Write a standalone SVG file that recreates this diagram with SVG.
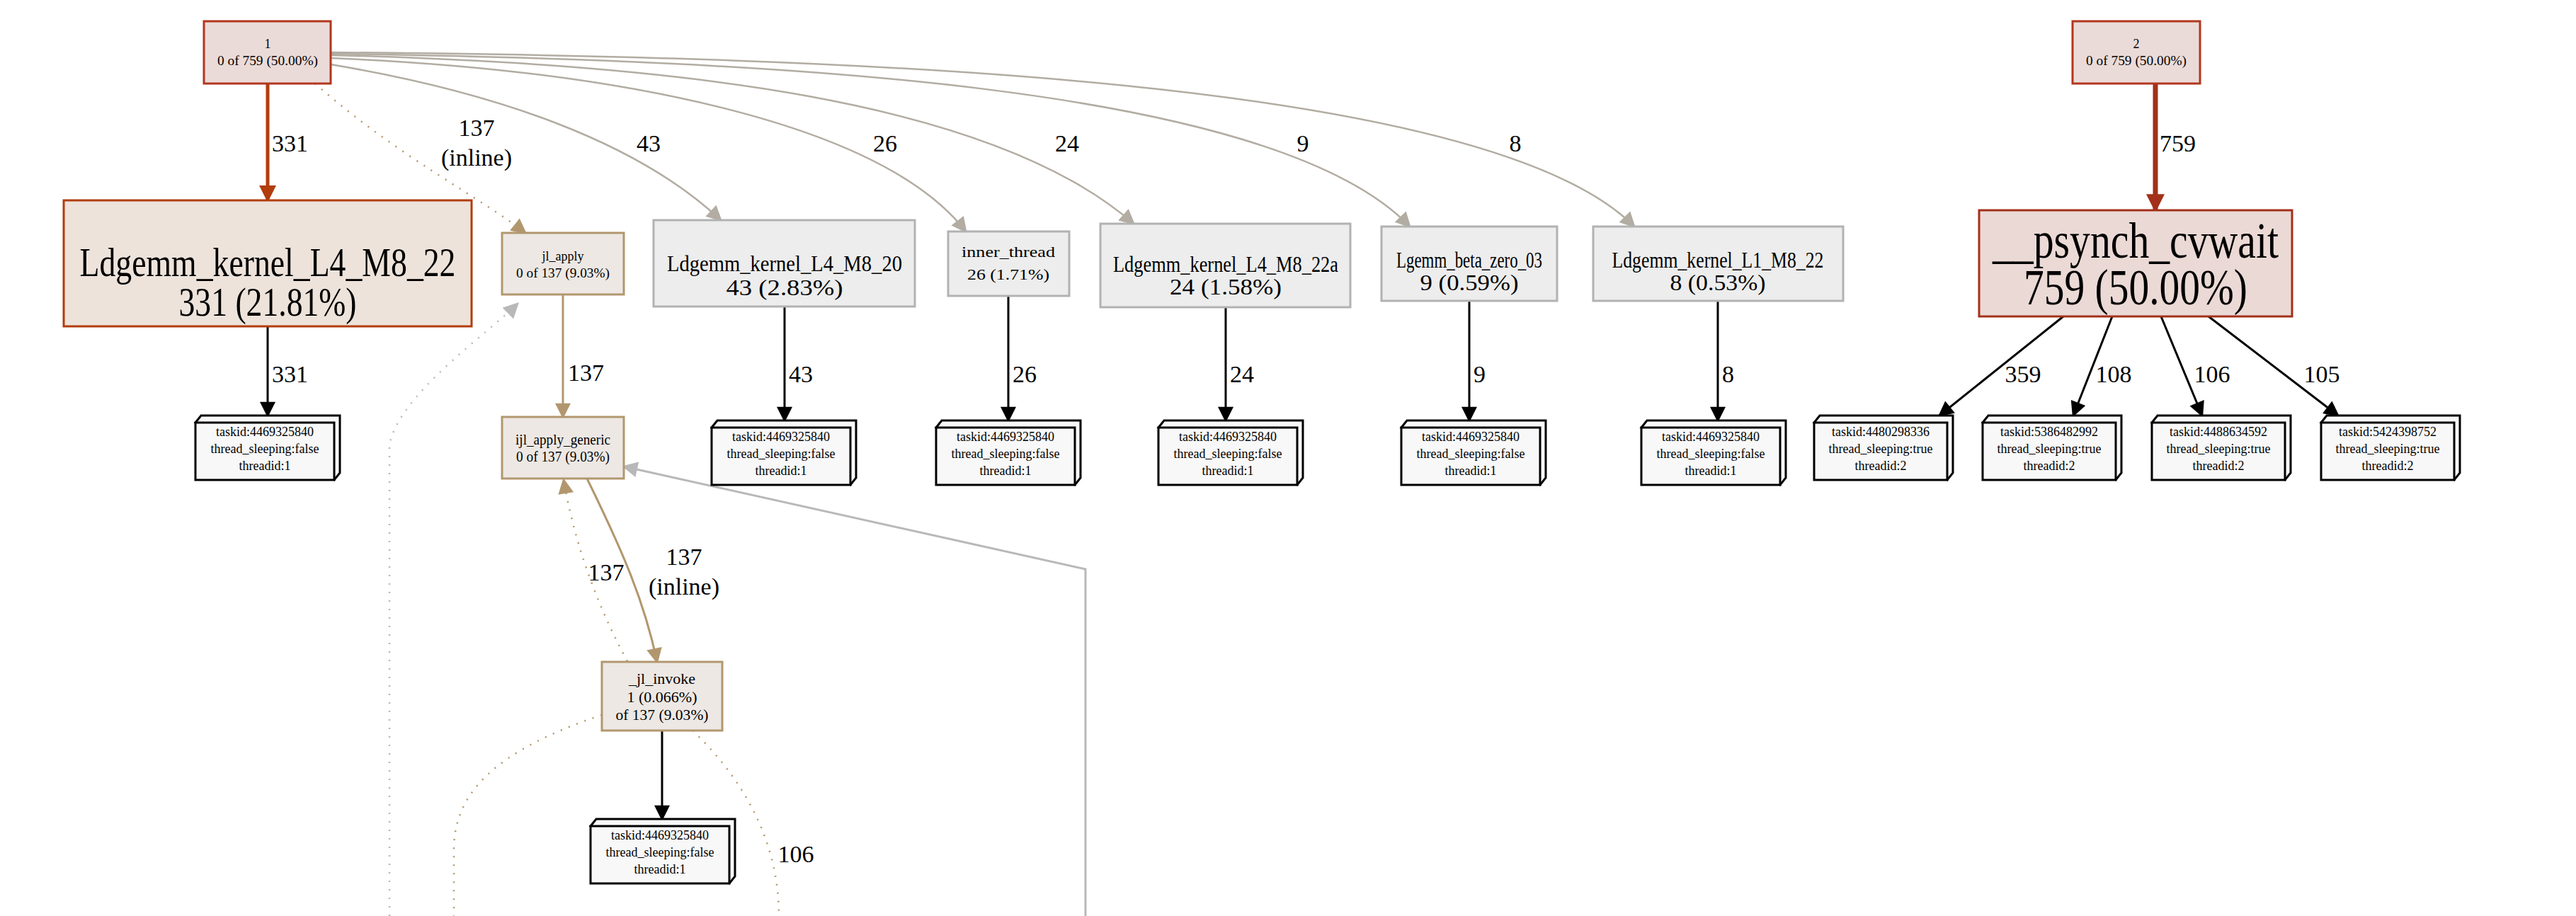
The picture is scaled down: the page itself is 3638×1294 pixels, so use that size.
<svg xmlns="http://www.w3.org/2000/svg" width="3638" height="1294" viewBox="0 0 3638 1294">
<style>
text{font-family:"Liberation Serif","Times New Roman",serif;text-anchor:middle;fill:#000}
.s{font-size:18px}.t{font-size:22px}.m{font-size:32px}.l{font-size:34px}
.st{text-anchor:start}
.e{fill:none}
.task rect{fill:#f8f8f8;stroke:#000;stroke-width:3}
.task path{fill:#f8f8f8;stroke:#000;stroke-width:3}
.gray{fill:#ededed;stroke:#b2b2b2;stroke-width:3}
.tan{fill:#ede8e4;stroke:#b2976e;stroke-width:3}
</style>
<defs>
<marker id="ag" viewBox="0 0 8 8" refX="7" refY="4" markerWidth="26" markerHeight="22" orient="auto" markerUnits="userSpaceOnUse"><path d="M0,0L8,4L0,8z" fill="#b2aca2"/></marker>
<marker id="ag2" viewBox="0 0 8 8" refX="7" refY="4" markerWidth="26" markerHeight="22" orient="auto" markerUnits="userSpaceOnUse"><path d="M0,0L8,4L0,8z" fill="#b8b8b8"/></marker>
<marker id="at" viewBox="0 0 8 8" refX="7" refY="4" markerWidth="28" markerHeight="22" orient="auto" markerUnits="userSpaceOnUse"><path d="M0,0L8,4L0,8z" fill="#b2976e"/></marker>
<marker id="ak" viewBox="0 0 8 8" refX="7" refY="4" markerWidth="30" markerHeight="22" orient="auto" markerUnits="userSpaceOnUse"><path d="M0,0L8,4L0,8z" fill="#000"/></marker>
<marker id="ar" viewBox="0 0 8 8" refX="7" refY="4" markerWidth="32" markerHeight="24" orient="auto" markerUnits="userSpaceOnUse"><path d="M0,0L8,4L0,8z" fill="#b23c0c"/></marker>
<marker id="ar2" viewBox="0 0 8 8" refX="7" refY="4" markerWidth="34" markerHeight="26" orient="auto" markerUnits="userSpaceOnUse"><path d="M0,0L8,4L0,8z" fill="#a3301a"/></marker>
</defs>
<rect width="3638" height="1294" fill="#fff"/>
<g id="connectors">
<path class="e" d="M378,118V283" stroke="#b23c0c" stroke-width="5" marker-end="url(#ar)"/>
<text class="l st" x="384" y="214">331</text>
<path class="e" d="M3044,118V297" stroke="#a3301a" stroke-width="7" marker-end="url(#ar2)"/>
<text class="l st" x="3050" y="214">759</text>
<path class="e" d="M445,118C560,220 680,280 742,329" stroke="#b2976e" stroke-width="2.5" stroke-dasharray="2,10" marker-end="url(#at)"/>
<text class="l" x="673" y="192">137</text><text class="l" x="673" y="234">(inline)</text>
<path class="e" d="M467,91C700,130 900,200 1018,311" stroke="#b2aca2" stroke-width="2.5" marker-end="url(#ag)"/>
<text class="l" x="916" y="214">43</text>
<path class="e" d="M467,82C900,100 1250,180 1364,327" stroke="#b2aca2" stroke-width="2.5" marker-end="url(#ag)"/>
<text class="l" x="1250" y="214">26</text>
<path class="e" d="M467,78C950,90 1400,140 1601,316" stroke="#b2aca2" stroke-width="2.5" marker-end="url(#ag)"/>
<text class="l" x="1507" y="214">24</text>
<path class="e" d="M467,76C1100,85 1800,120 1991,320" stroke="#b2aca2" stroke-width="2.5" marker-end="url(#ag)"/>
<text class="l" x="1840" y="214">9</text>
<path class="e" d="M467,74C1200,80 2100,110 2308,320" stroke="#b2aca2" stroke-width="2.5" marker-end="url(#ag)"/>
<text class="l" x="2140" y="214">8</text>
<path class="e" d="M795,416V589" stroke="#b2976e" stroke-width="3" marker-end="url(#at)"/>
<text class="l st" x="802" y="538">137</text>
<path class="e" d="M829,676C880,780 910,850 928,935" stroke="#b2976e" stroke-width="3" marker-end="url(#at)"/>
<text class="l" x="966" y="798">137</text><text class="l" x="966" y="840">(inline)</text>
<path class="e" d="M886,934C840,850 810,760 796,678" stroke="#b2976e" stroke-width="2.5" stroke-dasharray="2,10" marker-end="url(#at)"/>
<text class="l" x="856" y="820">137</text>
<path class="e" d="M1533,1294V804L881,659" stroke="#b8b8b8" stroke-width="3" marker-end="url(#ag2)"/>
<path class="e" d="M550,1294V630C560,560 690,470 731,429" stroke="#b8b8b8" stroke-width="2.5" stroke-dasharray="2,10" marker-end="url(#ag2)"/>
<path class="e" d="M850,1010C700,1060 641,1120 641,1200V1294" stroke="#b2976e" stroke-width="2.5" stroke-dasharray="2,10"/>
<path class="e" d="M978,1032C1060,1110 1100,1200 1100,1294" stroke="#b2976e" stroke-width="2.5" stroke-dasharray="2,10"/>
<text class="l" x="1124" y="1218">106</text>
<g stroke="#000" stroke-width="3" fill="none">
<path d="M378,461V587" marker-end="url(#ak)"/>
<path d="M1108,433V594" marker-end="url(#ak)"/>
<path d="M1424,418V594" marker-end="url(#ak)"/>
<path d="M1731,434V594" marker-end="url(#ak)"/>
<path d="M2075,425V594" marker-end="url(#ak)"/>
<path d="M2426,425V594" marker-end="url(#ak)"/>
<path d="M935,1032V1157" marker-end="url(#ak)"/>
<path d="M2914,447L2739,587" marker-end="url(#ak)"/>
<path d="M2983,447L2928,587" marker-end="url(#ak)"/>
<path d="M3052,447L3110,587" marker-end="url(#ak)"/>
<path d="M3119,447L3302,587" marker-end="url(#ak)"/>
</g>
<text class="l st" x="384" y="540">331</text>
<text class="l st" x="1114" y="540">43</text>
<text class="l st" x="1430" y="540">26</text>
<text class="l st" x="1737" y="540">24</text>
<text class="l st" x="2081" y="540">9</text>
<text class="l st" x="2432" y="540">8</text>
<text class="l st" x="941" y="1184">1</text>
<text class="l" x="2857" y="540">359</text>
<text class="l" x="2985" y="540">108</text>
<text class="l" x="3124" y="540">106</text>
<text class="l" x="3279" y="540">105</text>
</g>
<g id="n1"><rect x="288" y="30" width="179" height="88" fill="#ebdbd8" stroke="#b2361e" stroke-width="3"/><text class="s" x="378" y="68">1</text><text class="s" x="378" y="92" textLength="142" lengthAdjust="spacingAndGlyphs">0 of 759 (50.00%)</text></g>
<g id="n2"><rect x="2927" y="30" width="180" height="88" fill="#ebdbd8" stroke="#b2361e" stroke-width="3"/><text class="s" x="3017" y="68">2</text><text class="s" x="3017" y="92" textLength="142" lengthAdjust="spacingAndGlyphs">0 of 759 (50.00%)</text></g>
<g id="big"><rect x="90" y="283" width="576" height="178" fill="#ede3db" stroke="#b23c0c" stroke-width="3"/><text x="378" y="390" style="font-size:56px" textLength="531" lengthAdjust="spacingAndGlyphs">Ldgemm_kernel_L4_M8_22</text><text x="378" y="446" style="font-size:56px" textLength="251" lengthAdjust="spacingAndGlyphs">331 (21.81%)</text></g>
<g id="psynch"><rect x="2795" y="297" width="442" height="150" fill="#ebd9d5" stroke="#a3301a" stroke-width="3"/><text x="3016" y="364" style="font-size:72px" textLength="404" lengthAdjust="spacingAndGlyphs">__psynch_cvwait</text><text x="3016" y="430" style="font-size:72px" textLength="316" lengthAdjust="spacingAndGlyphs">759 (50.00%)</text></g>
<g id="jlapply"><rect class="tan" x="709" y="329" width="172" height="87"/><text class="s" x="795" y="368">jl_apply</text><text class="s" x="795" y="392" textLength="132" lengthAdjust="spacingAndGlyphs">0 of 137 (9.03%)</text></g>
<g id="ijl"><rect class="tan" x="709" y="589" width="172" height="87"/><text class="t" x="795" y="628" textLength="134" lengthAdjust="spacingAndGlyphs">ijl_apply_generic</text><text class="t" x="795" y="652" textLength="132" lengthAdjust="spacingAndGlyphs">0 of 137 (9.03%)</text></g>
<g id="invoke"><rect class="tan" x="850" y="935" width="170" height="97"/><text class="t" x="935" y="966">_jl_invoke</text><text class="t" x="935" y="992">1 (0.066%)</text><text class="t" x="935" y="1017" textLength="131" lengthAdjust="spacingAndGlyphs">of 137 (9.03%)</text></g>
<g id="g20"><rect class="gray" x="923" y="311" width="369" height="122"/><text class="m" x="1108" y="383" textLength="332" lengthAdjust="spacingAndGlyphs">Ldgemm_kernel_L4_M8_20</text><text class="m" x="1108" y="417" textLength="165" lengthAdjust="spacingAndGlyphs">43 (2.83%)</text></g>
<g id="inner"><rect class="gray" x="1339" y="327" width="171" height="91"/><text class="t" x="1424" y="363" textLength="132" lengthAdjust="spacingAndGlyphs">inner_thread</text><text class="t" x="1424" y="395" textLength="116" lengthAdjust="spacingAndGlyphs">26 (1.71%)</text></g>
<g id="g22a"><rect class="gray" x="1554" y="316" width="353" height="118"/><text class="m" x="1731" y="384" textLength="318" lengthAdjust="spacingAndGlyphs">Ldgemm_kernel_L4_M8_22a</text><text class="m" x="1731" y="416" textLength="158" lengthAdjust="spacingAndGlyphs">24 (1.58%)</text></g>
<g id="beta"><rect class="gray" x="1951" y="320" width="248" height="105"/><text class="m" x="2075" y="378" textLength="206" lengthAdjust="spacingAndGlyphs">Lgemm_beta_zero_03</text><text class="m" x="2075" y="410" textLength="139" lengthAdjust="spacingAndGlyphs">9 (0.59%)</text></g>
<g id="l1"><rect class="gray" x="2250" y="320" width="353" height="105"/><text class="m" x="2426" y="378" textLength="299" lengthAdjust="spacingAndGlyphs">Ldgemm_kernel_L1_M8_22</text><text class="m" x="2426" y="410" textLength="135" lengthAdjust="spacingAndGlyphs">8 (0.53%)</text></g>
<g id="tasks" class="task">
<g id="t1"><path d="M276,597l8,-10h196v81l-8,10z"/><rect x="276" y="597" width="196" height="81"/><text class="s" x="374" y="616">taskid:4469325840</text><text class="s" x="374" y="640">thread_sleeping:false</text><text class="s" x="374" y="664">threadid:1</text></g>
<g id="t2"><path d="M1005,604l8,-10h196v81l-8,10z"/><rect x="1005" y="604" width="196" height="81"/><text class="s" x="1103" y="623">taskid:4469325840</text><text class="s" x="1103" y="647">thread_sleeping:false</text><text class="s" x="1103" y="671">threadid:1</text></g>
<g id="t3"><path d="M1322,604l8,-10h196v81l-8,10z"/><rect x="1322" y="604" width="196" height="81"/><text class="s" x="1420" y="623">taskid:4469325840</text><text class="s" x="1420" y="647">thread_sleeping:false</text><text class="s" x="1420" y="671">threadid:1</text></g>
<g id="t4"><path d="M1636,604l8,-10h196v81l-8,10z"/><rect x="1636" y="604" width="196" height="81"/><text class="s" x="1734" y="623">taskid:4469325840</text><text class="s" x="1734" y="647">thread_sleeping:false</text><text class="s" x="1734" y="671">threadid:1</text></g>
<g id="t5"><path d="M1979,604l8,-10h196v81l-8,10z"/><rect x="1979" y="604" width="196" height="81"/><text class="s" x="2077" y="623">taskid:4469325840</text><text class="s" x="2077" y="647">thread_sleeping:false</text><text class="s" x="2077" y="671">threadid:1</text></g>
<g id="t6"><path d="M2318,604l8,-10h196v81l-8,10z"/><rect x="2318" y="604" width="196" height="81"/><text class="s" x="2416" y="623">taskid:4469325840</text><text class="s" x="2416" y="647">thread_sleeping:false</text><text class="s" x="2416" y="671">threadid:1</text></g>
<g id="t7"><path d="M834,1167l8,-10h196v81l-8,10z"/><rect x="834" y="1167" width="196" height="81"/><text class="s" x="932" y="1186">taskid:4469325840</text><text class="s" x="932" y="1210">thread_sleeping:false</text><text class="s" x="932" y="1234">threadid:1</text></g>
<g id="t8"><path d="M2562,597l8,-10h188v81l-8,10z"/><rect x="2562" y="597" width="188" height="81"/><text class="s" x="2656" y="616">taskid:4480298336</text><text class="s" x="2656" y="640">thread_sleeping:true</text><text class="s" x="2656" y="664">threadid:2</text></g>
<g id="t9"><path d="M2800,597l8,-10h188v81l-8,10z"/><rect x="2800" y="597" width="188" height="81"/><text class="s" x="2894" y="616">taskid:5386482992</text><text class="s" x="2894" y="640">thread_sleeping:true</text><text class="s" x="2894" y="664">threadid:2</text></g>
<g id="t10"><path d="M3039,597l8,-10h188v81l-8,10z"/><rect x="3039" y="597" width="188" height="81"/><text class="s" x="3133" y="616">taskid:4488634592</text><text class="s" x="3133" y="640">thread_sleeping:true</text><text class="s" x="3133" y="664">threadid:2</text></g>
<g id="t11"><path d="M3278,597l8,-10h188v81l-8,10z"/><rect x="3278" y="597" width="188" height="81"/><text class="s" x="3372" y="616">taskid:5424398752</text><text class="s" x="3372" y="640">thread_sleeping:true</text><text class="s" x="3372" y="664">threadid:2</text></g>
</g>
</svg>
